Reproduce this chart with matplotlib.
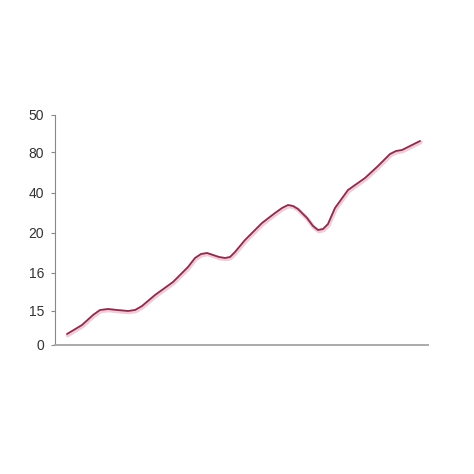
import matplotlib
matplotlib.use("Agg")
import matplotlib.pyplot as plt
import matplotlib.patheffects as pe

# Data (x position, y position in axis units)
x_vals = [12, 27, 38, 45, 53, 62, 73, 80, 87, 100, 118, 133, 140, 146, 152, 158,
          164, 170, 175, 180, 190, 198, 207, 220, 227, 233, 238, 243, 252, 258,
          263, 268, 273, 280, 293, 310, 323, 335, 341, 347, 365]
y_vals = [11, 20, 30, 35, 36, 35, 34, 35, 39, 50, 63, 78, 87, 91, 92, 90,
          88, 87, 88, 93, 105, 113, 122, 132, 137, 140, 139, 136, 127, 119,
          115, 116, 121, 137, 155, 167, 179, 191, 194, 195, 204]

tick_positions = [0, 34, 72, 112, 152, 193, 230]
tick_labels = ["0", "15", "16", "20", "40", "80", "50"]

fig = plt.figure(figsize=(4.74, 4.74), dpi=100)
ax = fig.add_axes([55/474, 1-345/474, (428-55)/474, (345-115)/474])

ax.plot(x_vals, y_vals, color="#85304f", linewidth=1.3, solid_capstyle="round",
        solid_joinstyle="round",
        path_effects=[pe.SimpleLineShadow(offset=(0.5, -0.9), shadow_color="#ee9fb5",
                                          alpha=0.55, linewidth=3.0),
                      pe.Normal()])

ax.set_xlim(0, 373)
ax.set_ylim(0, 230)
ax.set_yticks(tick_positions)
ax.set_yticklabels(tick_labels, fontfamily="Liberation Sans", fontsize=10, color="#333333")
ax.set_xticks([])
ax.tick_params(axis="y", length=3, width=0.8, color="#888888", pad=5)
ax.spines["top"].set_visible(False)
ax.spines["right"].set_visible(False)
ax.spines["left"].set_color("#888888")
ax.spines["left"].set_linewidth(0.8)
ax.spines["bottom"].set_color("#aaaaaa")
ax.spines["bottom"].set_linewidth(1.4)

fig.savefig("out.png", dpi=100, facecolor="white")
